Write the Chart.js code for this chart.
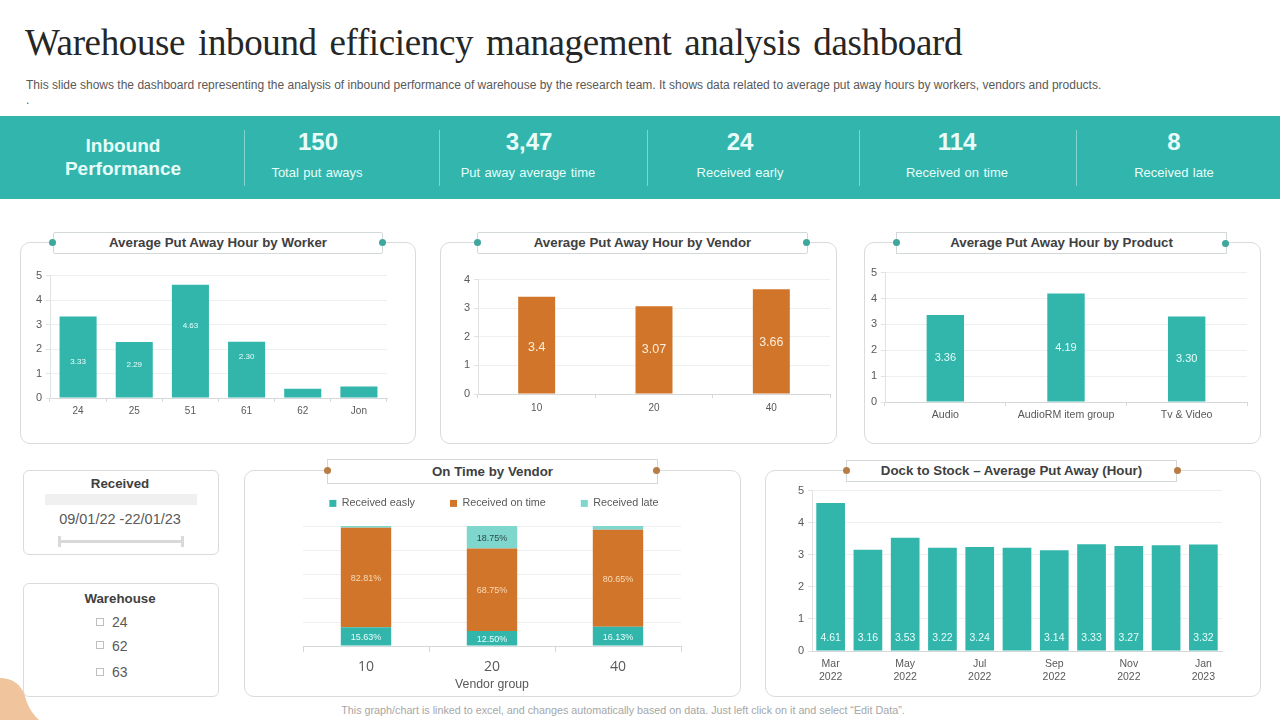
<!DOCTYPE html>
<html>
<head>
<meta charset="utf-8">
<script src="https://cdn.jsdelivr.net/npm/chart.js@4"></script>
<style>
  html, body { margin: 0; padding: 0; background: #fff; }
  #page { position: relative; width: 1280px; height: 720px; overflow: hidden; font-family: "Liberation Sans", Arial, sans-serif; color: #595959; }
  #page > * { position: absolute; box-sizing: border-box; }
  canvas { display: block; }
  h1 { margin: 0; left: 25px; top: 19px; font: 400 37px/48px "Liberation Serif", serif; color: #262626; word-spacing: 4px; letter-spacing: -0.37px; white-space: nowrap; }
  .sub { left: 26px; top: 78px; font-size: 12px; line-height: 14px; color: #595959; white-space: nowrap; }
  .banner { left: 0; top: 116px; width: 1280px; height: 83px; background: #31b5ac; }
  .sep { top: 130px; width: 1px; height: 56px; background: rgba(255,255,255,.4); }
  .bt { transform: translateX(-50%); text-align: center; color: #e8fdfa; white-space: nowrap; }
  .head { top: 134px; font-weight: 700; font-size: 19px; line-height: 23px; }
  .val { top: 127px; font-weight: 700; font-size: 24px; line-height: 30px; }
  .lab { top: 165px; font-size: 13px; line-height: 16px; word-spacing: 0.8px; }
  .card { border: 1px solid #d9dcdc; border-radius: 10px; background: #fff; }
  .ttl { border: 1px solid #d3d9d9; border-radius: 2px; background: #fff; text-align: center; font-weight: 700; font-size: 13.3px; color: #404040; white-space: nowrap; }
  .dot { width: 7px; height: 7px; border-radius: 50%; }
  .ct { transform: translateX(-50%); white-space: nowrap; }
  .chk { width: 8px; height: 8px; border: 1px solid #bfbfbf; left: 96px; }
  .foot { left: 623px; top: 704px; transform: translateX(-50%); font-size: 10.75px; line-height: 13px; color: #a6a6a6; white-space: nowrap; }
</style>
</head>
<body>
<div id="page">
  <h1>Warehouse inbound efficiency management analysis dashboard</h1>
  <div class="sub">This slide shows the dashboard representing the analysis of inbound performance of warehouse by the research team. It shows data related to average put away hours by workers, vendors and products.</div>
  <div class="sub" style="top:93px">.</div>

  <div class="banner"></div>
  <div class="bt head" style="left:123px">Inbound<br>Performance</div>
  <div class="sep" style="left:244px"></div>
  <div class="sep" style="left:439px"></div>
  <div class="sep" style="left:647px"></div>
  <div class="sep" style="left:859px"></div>
  <div class="sep" style="left:1076px"></div>
  <div class="bt val" style="left:318px">150</div><div class="bt lab" style="left:317px">Total put aways</div>
  <div class="bt val" style="left:529px">3,47</div><div class="bt lab" style="left:528px">Put away average time</div>
  <div class="bt val" style="left:740px">24</div><div class="bt lab" style="left:740px">Received early</div>
  <div class="bt val" style="left:957px">114</div><div class="bt lab" style="left:957px">Received on time</div>
  <div class="bt val" style="left:1174px">8</div><div class="bt lab" style="left:1174px">Received late</div>

  <div class="card" style="left:20px;top:242px;width:396px;height:202px"></div>
  <div class="card" style="left:440px;top:242px;width:397px;height:202px"></div>
  <div class="card" style="left:864px;top:242px;width:397px;height:202px"></div>
  <div class="card" style="left:244px;top:470px;width:497px;height:227px"></div>
  <div class="card" style="left:765px;top:470px;width:496px;height:227px"></div>

  <div class="ttl" style="left:53px;top:232px;width:330px;height:22px;line-height:20px">Average Put Away Hour by Worker</div>
  <div class="ttl" style="left:477px;top:232px;width:331px;height:22px;line-height:20px">Average Put Away Hour by Vendor</div>
  <div class="ttl" style="left:896px;top:232px;width:331px;height:22px;line-height:20px;border-radius:0">Average Put Away Hour by Product</div>
  <div class="ttl" style="left:327px;top:459px;width:331px;height:25px;line-height:23px;border-radius:0">On Time by Vendor</div>
  <div class="ttl" style="left:846px;top:460px;width:331px;height:22px;line-height:20px;border-radius:0">Dock to Stock – Average Put Away (Hour)</div>

  <div class="dot" style="left:49px;top:239px;background:#3fa79d"></div>
  <div class="dot" style="left:379px;top:239px;background:#3fa79d"></div>
  <div class="dot" style="left:474px;top:239px;background:#3fa79d"></div>
  <div class="dot" style="left:803px;top:239px;background:#3fa79d"></div>
  <div class="dot" style="left:893px;top:239px;background:#3fa79d"></div>
  <div class="dot" style="left:1222px;top:240px;background:#3fa79d"></div>
  <div class="dot" style="left:324px;top:467px;background:#b87c45"></div>
  <div class="dot" style="left:653px;top:467px;background:#b87c45"></div>
  <div class="dot" style="left:843px;top:467px;background:#b87c45"></div>
  <div class="dot" style="left:1174px;top:467px;background:#b87c45"></div>

  <div class="card" style="left:23px;top:470px;width:196px;height:85px;border-radius:6px"></div>
  <div class="ct" style="left:120px;top:476px;font-weight:700;font-size:13.3px;color:#404040">Received</div>
  <div style="left:45px;top:494px;width:152px;height:11px;background:#f0f0f0"></div>
  <div class="ct" style="left:120px;top:511px;font-size:14.5px">09/01/22 -22/01/23</div>
  <div style="left:59px;top:540px;width:124px;height:3px;background:#d9d9d9"></div>
  <div style="left:58px;top:536px;width:3px;height:11px;background:#d9d9d9"></div>
  <div style="left:181px;top:536px;width:3px;height:11px;background:#d9d9d9"></div>

  <div class="card" style="left:23px;top:583px;width:196px;height:114px;border-radius:6px"></div>
  <div class="ct" style="left:120px;top:591px;font-weight:700;font-size:13.3px;color:#404040">Warehouse</div>
  <div class="chk" style="top:618px"></div><div style="left:112px;top:614px;font-size:14px">24</div>
  <div class="chk" style="top:641px"></div><div style="left:112px;top:638px;font-size:14px">62</div>
  <div class="chk" style="top:668px"></div><div style="left:112px;top:664px;font-size:14px">63</div>

  <canvas id="workerChart" style="left:20px;top:265px" width="377" height="158"></canvas>
  <canvas id="vendorChart" style="left:448px;top:269px" width="392" height="150"></canvas>
  <canvas id="productChart" style="left:855px;top:262px" width="402" height="164"></canvas>
  <canvas id="onTimeChart" style="left:247px;top:463px" width="494" height="232"></canvas>
  <canvas id="dockChart" style="left:782px;top:480px" width="450" height="205"></canvas>

  <svg style="left:0;top:670px" width="50" height="50"><path d="M0 8 C12 8 21 14 25 26 C28 38 33 44 39 50 L0 50 Z" fill="#f0c49c"/></svg>
  <div class="foot">This graph/chart is linked to excel, and changes automatically based on data. Just left click on it and select “Edit Data”.</div>
</div>

<script>
const workerCategories = ['24', '25', '51', '61', '62', 'Jon'];
const workerValues = [3.33, 2.29, 4.63, 2.30, 0.38, 0.47];
const workerLabels = ['3.33', '2.29', '4.63', '2.30', '', ''];

const vendorCategories = ['10', '20', '40'];
const vendorValues = [3.4, 3.07, 3.66];
const vendorLabels = ['3.4', '3.07', '3.66'];

const productCategories = ['Audio', 'AudioRM item group', 'Tv & Video'];
const productValues = [3.36, 4.19, 3.30];
const productLabels = ['3.36', '4.19', '3.30'];

const onTimeCategories = ['10', '20', '40'];
const receivedEasly = [15.63, 12.50, 16.13];
const receivedOnTime = [82.81, 68.75, 80.65];
const receivedLate = [1.56, 18.75, 3.22];
const receivedEaslyLabels = ['15.63%', '12.50%', '16.13%'];
const receivedOnTimeLabels = ['82.81%', '68.75%', '80.65%'];
const receivedLateLabels = ['', '18.75%', ''];

const dockMonths = [['Mar', '2022'], '', ['May', '2022'], '', ['Jul', '2022'], '', ['Sep', '2022'], '', ['Nov', '2022'], '', ['Jan', '2023']];
const dockValues = [4.61, 3.16, 3.53, 3.22, 3.24, 3.22, 3.14, 3.33, 3.27, 3.30, 3.32];
const dockLabels = ['4.61', '3.16', '3.53', '3.22', '3.24', '', '3.14', '3.33', '3.27', '', '3.32'];

const TEAL = '#32b6ac';
const ORANGE = '#d1752a';
const LIGHT_TEAL = '#7fd6cd';
const FONT = '"Liberation Sans", Arial, sans-serif';

Chart.defaults.animation = false;
Chart.defaults.responsive = false;
Chart.defaults.font.family = FONT;

// writes the value text on the bars, chart.js has no built in data labels
const barText = {
    id: 'barText',
    afterDatasetsDraw(chart, args, opts) {
        const ctx = chart.ctx;
        ctx.save();
        ctx.textAlign = 'center';
        ctx.textBaseline = 'middle';
        ctx.font = `${opts.size}px ${FONT}`;
        chart.data.datasets.forEach((ds, d) => {
            chart.getDatasetMeta(d).data.forEach((bar, i) => {
                const text = opts.labels[d][i];
                if (!text) return;
                const nudge = opts.nudge ? opts.nudge[i] : 0;
                const y = opts.atBase ? bar.base - opts.atBase : (bar.y + bar.base) / 2 + nudge;
                ctx.fillStyle = opts.colors[d];
                ctx.fillText(text, bar.x, y);
            });
        });
        ctx.restore();
    }
};

// fixed axis sizes so the plot area lands where it should on the card
function makeScales(cfg) {
    return {
        x: {
            grid: { drawOnChartArea: false, tickLength: cfg.noXTicks ? 0 : 4, color: '#d4d8d8' },
            border: { color: '#d4d8d8' },
            ticks: { font: { size: cfg.xFont || 10 }, color: '#595959', padding: cfg.xPad || 4, maxRotation: 0, autoSkip: false },
            afterFit: s => { s.height = cfg.bottom; }
        },
        y: {
            min: 0,
            max: cfg.max,
            grid: { color: '#eef0f0', tickLength: 4, tickColor: '#e0e3e3' },
            border: { color: '#dfe3e3' },
            ticks: { stepSize: 1, font: { size: 11 }, color: '#595959', padding: 4 },
            afterFit: s => { s.width = cfg.left; }
        }
    };
}

function singleBar(id, cats, vals, color, cfg) {
    return new Chart(document.getElementById(id), {
        type: 'bar',
        data: {
            labels: cats,
            datasets: [{ data: vals, backgroundColor: color, barPercentage: cfg.bar, categoryPercentage: 1 }]
        },
        options: {
            layout: { padding: cfg.padding },
            scales: makeScales(cfg),
            plugins: {
                legend: { display: false },
                barText: { labels: [cfg.labels], colors: [cfg.textColor], size: cfg.textSize, nudge: cfg.nudge, atBase: cfg.atBase }
            }
        },
        plugins: [barText]
    });
}

singleBar('workerChart', workerCategories, workerValues, TEAL, {
    max: 5, left: 30, bottom: 25, bar: 0.66, padding: { top: 10, right: 10 },
    labels: workerLabels, textColor: '#e8fdfa', textSize: 8, nudge: [5, -5, -15, -13, 0, 0], xPad: 3
});

singleBar('vendorChart', vendorCategories, vendorValues, ORANGE, {
    max: 4, left: 30, bottom: 25, bar: 0.315, padding: { top: 10, right: 10 },
    labels: vendorLabels, textColor: '#fbeeda', textSize: 12.5, nudge: [2, 0, 1]
});

singleBar('productChart', productCategories, productValues, TEAL, {
    max: 5, left: 30, bottom: 24, bar: 0.31, padding: { top: 10, right: 10 },
    labels: productLabels, textColor: '#e8fdfa', textSize: 11, xPad: 3, xFont: 10.6
});

singleBar('dockChart', dockMonths, dockValues, TEAL, {
    max: 5, left: 30, bottom: 34, bar: 0.77, padding: { top: 10, right: 10 },
    labels: dockLabels, textColor: '#e8fdfa', textSize: 10.5, atBase: 12, noXTicks: true, xFont: 10.5, xPad: 7
});

// legend spacing comes from labels.padding, keep its box short so it does not eat the plot
const shortLegend = {
    id: 'shortLegend',
    beforeInit(chart) {
        const fit = chart.legend.fit;
        chart.legend.fit = function () {
            fit.call(this);
            this.height = 63;
        };
    }
};

new Chart(document.getElementById('onTimeChart'), {
    type: 'bar',
    data: {
        labels: onTimeCategories,
        datasets: [
            { label: 'Received easly', data: receivedEasly, backgroundColor: TEAL },
            { label: 'Received on time', data: receivedOnTime, backgroundColor: ORANGE },
            { label: 'Received late', data: receivedLate, backgroundColor: LIGHT_TEAL }
        ].map(ds => ({ ...ds, barPercentage: 0.4, categoryPercentage: 1 }))
    },
    options: {
        scales: {
            x: {
                stacked: true,
                grid: { drawOnChartArea: false, tickLength: 6, color: '#d4d8d8' },
                border: { color: '#d4d8d8' },
                ticks: { font: { family: '"Open Sans"', size: 14 }, color: '#595959', padding: 7 },
                title: { display: true, text: 'Vendor group', font: { size: 12.3 }, color: '#595959', padding: { top: 0, bottom: 3 } },
                afterFit: s => { s.height = 49; }
            },
            y: {
                stacked: true,
                min: 0,
                max: 100,
                grid: { color: '#eef0f0', drawTicks: false },
                border: { display: false },
                ticks: { display: false, stepSize: 20 },
                afterFit: s => { s.width = 56; }
            },
            // empty right axis, only there to keep the plot narrower than the legend row
            yRight: {
                axis: 'y',
                position: 'right',
                min: 0,
                max: 100,
                grid: { display: false },
                border: { display: false },
                ticks: { display: false },
                afterFit: s => { s.width = 60; }
            }
        },
        plugins: {
            legend: {
                position: 'top',
                labels: { boxWidth: 7, boxHeight: 7, padding: 35, font: { size: 10.8 }, color: '#595959' }
            },
            barText: {
                labels: [receivedEaslyLabels, receivedOnTimeLabels, receivedLateLabels],
                colors: ['#e8fdfa', '#fbdcb8', '#2f4a47'],
                size: 9,
                nudge: [1, 1, 1]
            }
        }
    },
    plugins: [shortLegend, barText]
});
</script>
</body>
</html>
